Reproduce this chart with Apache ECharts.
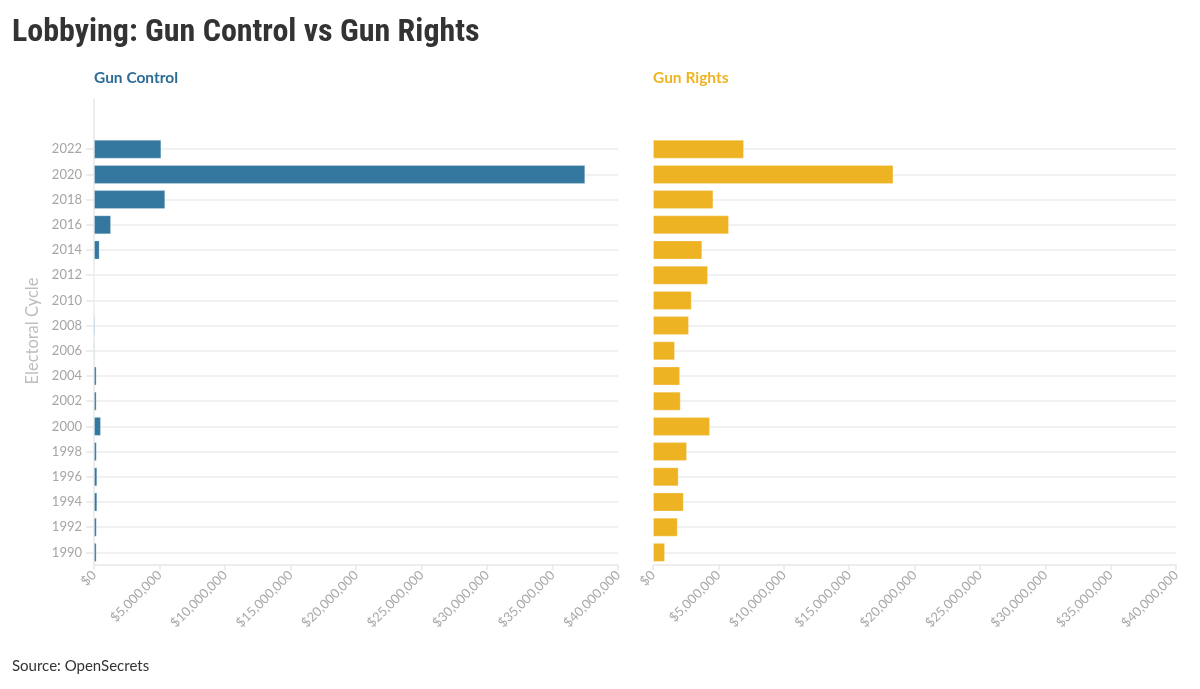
<!DOCTYPE html>
<html>
<head>
<meta charset="utf-8">
<title>Lobbying: Gun Control vs Gun Rights</title>
<script src="https://cdn.jsdelivr.net/npm/echarts@6/dist/echarts.min.js"></script>
<style>
	html, body { margin: 0; padding: 0; background: #fff; }
	#chart { width: 1200px; height: 689px; }
</style>
</head>
<body>
<div id="chart"></div>
<script>
// electoral cycles, bottom to top
var cycles = ['1990', '1992', '1994', '1996', '1998', '2000', '2002', '2004', '2006',
	'2008', '2010', '2012', '2014', '2016', '2018', '2020', '2022'];

// lobbying spend in dollars, same order as cycles
var gunControl = [200000, 210000, 250000, 250000, 210000, 530000, 200000, 200000, 90000,
	100000, 5000, 5000, 430000, 1300000, 5440000, 37500000, 5140000];
var gunRights = [920000, 1890000, 2350000, 1960000, 2600000, 4360000, 2120000, 2070000, 1680000,
	2750000, 2960000, 4210000, 3770000, 5810000, 4620000, 18390000, 6960000];

var xTicks = [0, 5000000, 10000000, 15000000, 20000000, 25000000, 30000000, 35000000, 40000000];

var font = 'Lato, "Noto Sans", sans-serif';

function money(v) {
	return '$' + v.toLocaleString('en-US');
}

function xAxisFor(idx) {
	return {
		type: 'value',
		gridIndex: idx,
		min: xTicks[0],
		max: xTicks[xTicks.length - 1],
		interval: xTicks[1] - xTicks[0],
		axisLine: { show: true, lineStyle: { color: '#e8e8e8', width: 1.5 } },
		axisTick: { show: true, length: 5, lineStyle: { color: '#e8e8e8', width: 1.5 } },
		splitLine: { show: false },
		axisLabel: {
			rotate: 45,
			color: '#a8a8a8',
			fontFamily: font,
			fontSize: 13,
			margin: 8,
			formatter: money
		}
	};
}

function yAxisFor(idx, showLabels) {
	return {
		type: 'category',
		gridIndex: idx,
		data: cycles,
		axisLine: { show: false },
		axisTick: {
			show: showLabels,
			alignWithLabel: true,
			length: 8,
			lineStyle: { color: '#e8e8e8', width: 1.5 }
		},
		splitLine: {
			show: true,
			alignWithLabel: true,
			lineStyle: { color: '#ececec', width: 1.5 }
		},
		axisLabel: {
			show: showLabels,
			color: '#a5a5a5',
			fontFamily: font,
			fontSize: 13,
			margin: 12
		}
	};
}

var myChart = echarts.init(document.getElementById('chart'));

var option = {
	backgroundColor: '#fff',
	animation: false,
	title: [
		{
			text: 'Lobbying: Gun Control vs Gun Rights',
			left: 12,
			top: 17,
			padding: 0,
			textStyle: {
				fontFamily: '"Roboto Condensed", "Roboto", sans-serif',
				fontWeight: 'bold',
				fontSize: 32,
				color: '#333'
			}
		},
		{
			text: 'Gun Control',
			left: 94,
			top: 70,
			padding: 0,
			textStyle: { fontFamily: font, fontWeight: 'bold', fontSize: 15.5, color: '#2c6c97' }
		},
		{
			text: 'Gun Rights',
			left: 653,
			top: 70,
			padding: 0,
			textStyle: { fontFamily: font, fontWeight: 'bold', fontSize: 15.5, color: '#eeb422' }
		},
		{
			text: 'Source: OpenSecrets',
			left: 12,
			top: 659,
			padding: 0,
			textStyle: { fontFamily: font, fontWeight: 'normal', fontSize: 15, color: '#333' }
		}
	],
	grid: [
		{ left: 94, width: 524, top: 136.6, height: 428.4 },
		{ left: 653, width: 523, top: 136.6, height: 428.4 }
	],
	xAxis: [xAxisFor(0), xAxisFor(1)],
	yAxis: [yAxisFor(0, true), yAxisFor(1, false)],
	graphic: [
		{
			type: 'line',
			shape: { x1: 94, y1: 98, x2: 94, y2: 565 },
			style: { stroke: '#e8e8e8', lineWidth: 1.5 },
			z: 1
		},
		{
			type: 'text',
			rotation: Math.PI / 2,
			x: 33,
			y: 331,
			style: {
				text: 'Electoral Cycle',
				fill: '#bdbdbd',
				font: '16.5px ' + font,
				textAlign: 'center',
				textVerticalAlign: 'middle'
			}
		}
	],
	series: [
		{
			name: 'Gun Control',
			type: 'bar',
			xAxisIndex: 0,
			yAxisIndex: 0,
			data: gunControl,
			barWidth: 19,
			itemStyle: {
				color: '#34779f',
				borderColor: 'rgba(255,255,255,0.25)',
				borderWidth: 1
			}
		},
		{
			name: 'Gun Rights',
			type: 'bar',
			xAxisIndex: 1,
			yAxisIndex: 1,
			data: gunRights,
			barWidth: 19,
			itemStyle: {
				color: '#edb322',
				borderColor: 'rgba(255,255,255,0.25)',
				borderWidth: 1
			}
		}
	]
};

myChart.setOption(option);
</script>
</body>
</html>
